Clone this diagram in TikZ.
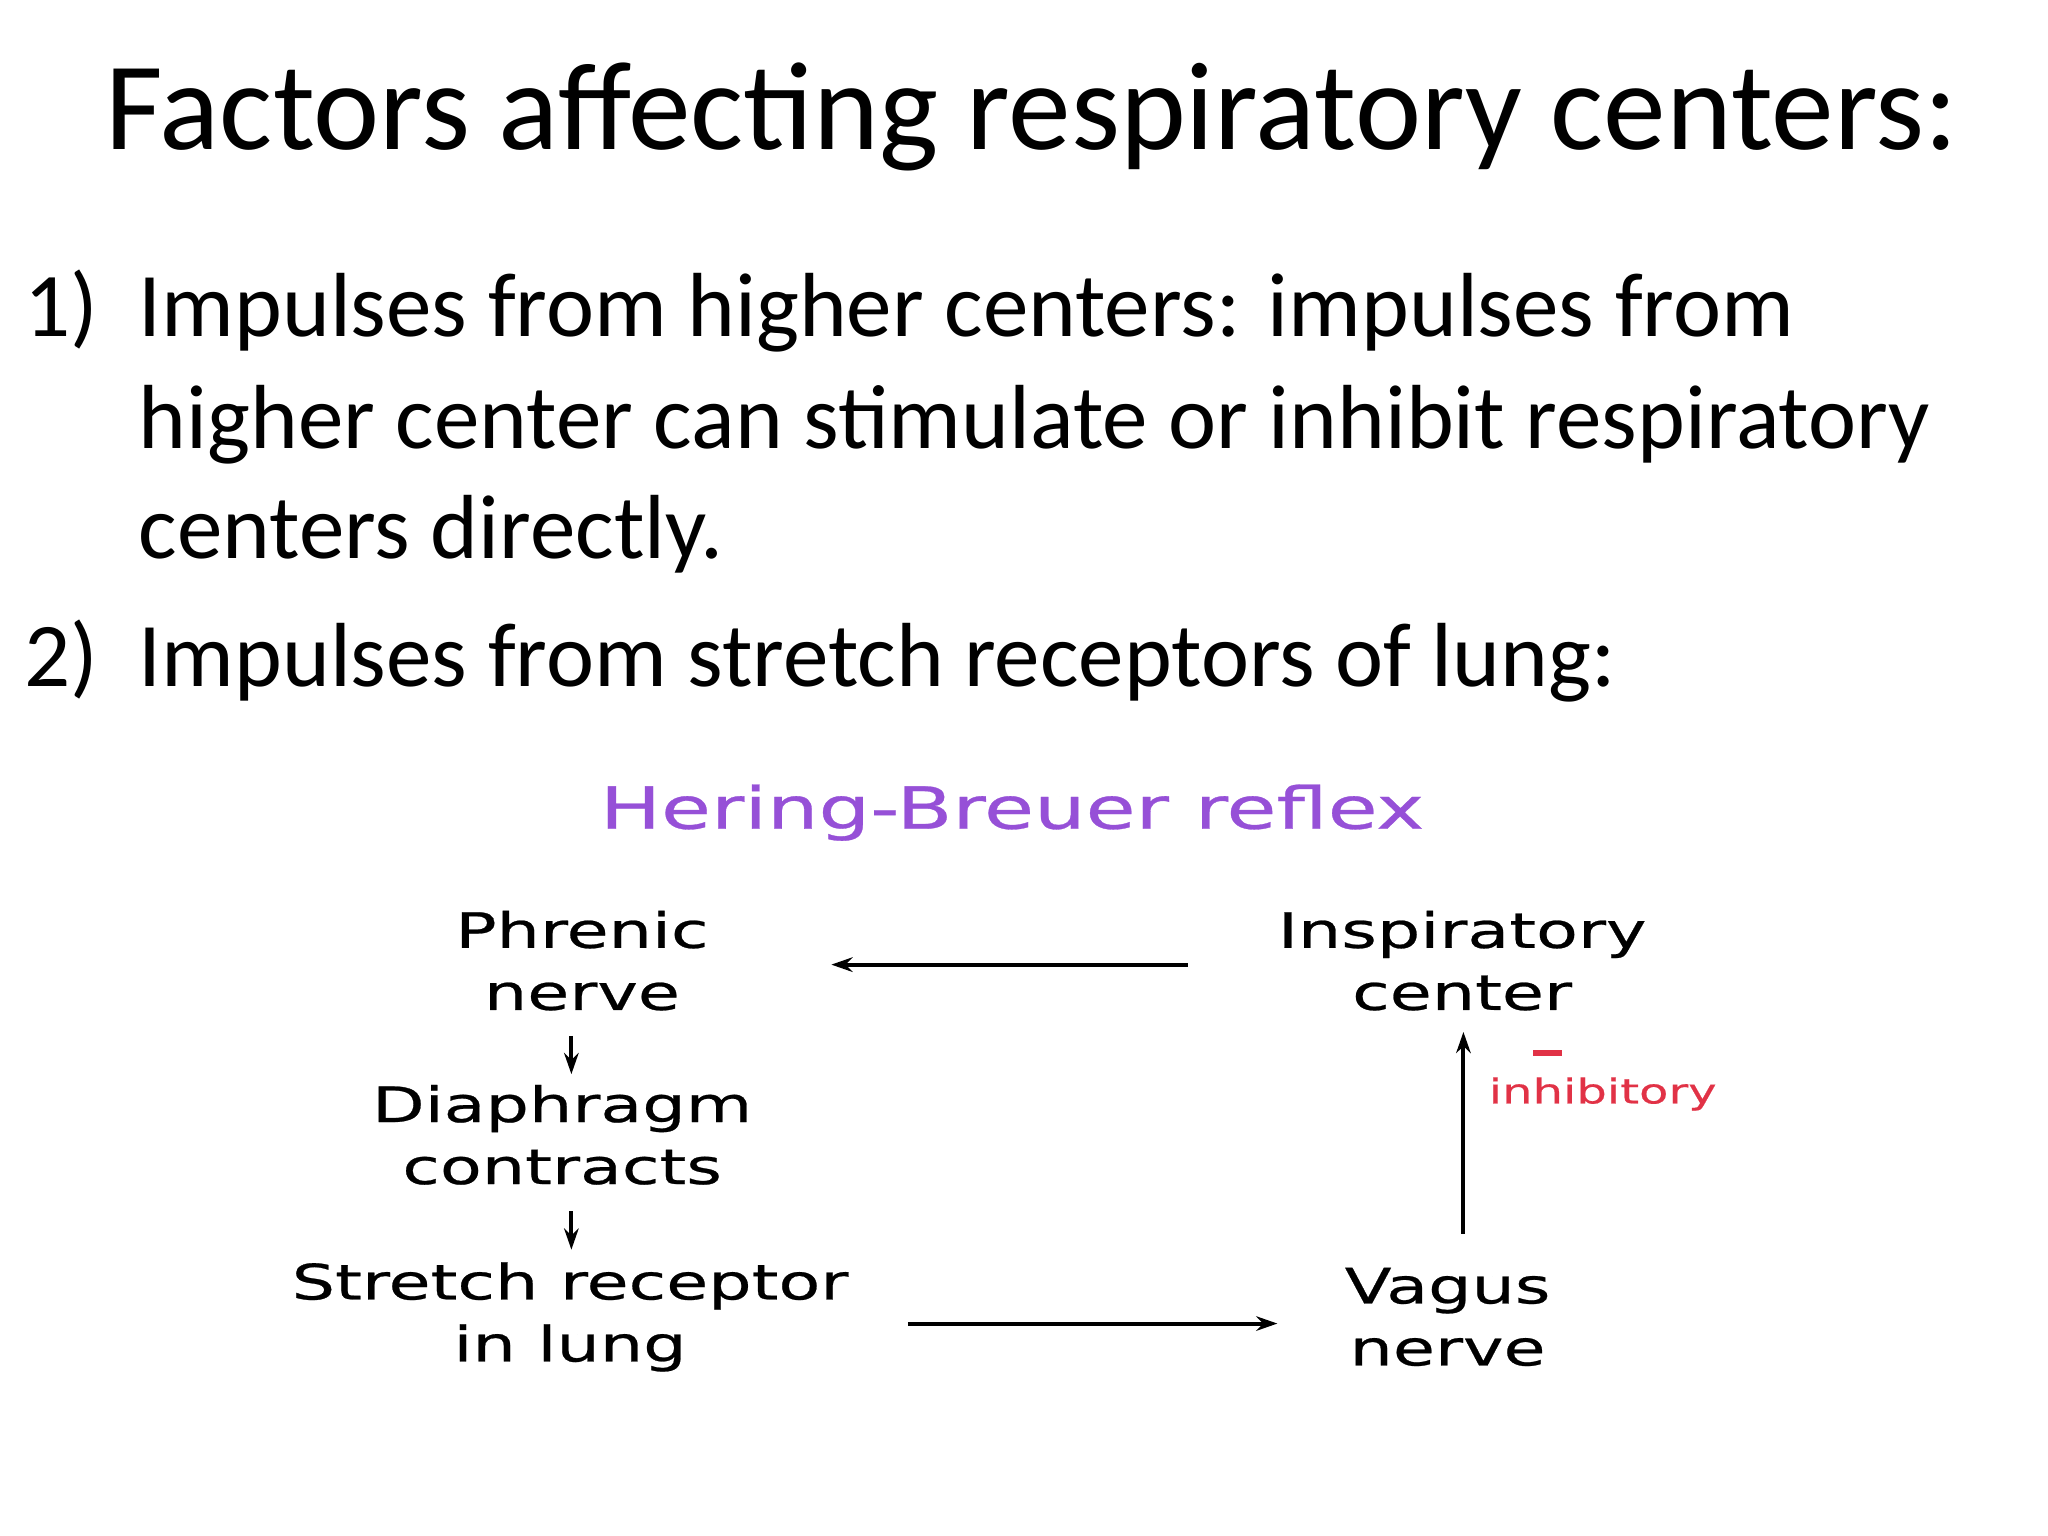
\documentclass[tikz,border=0pt]{standalone}
\usepackage{fontspec}
\usetikzlibrary{arrows.meta}
\setmainfont{Carlito}
\newfontfamily\dfont[FakeStretch=1.4,FakeBold=0.5]{DejaVu Sans}
\definecolor{hb}{RGB}{150,80,215}
\definecolor{inh}{RGB}{225,50,70}
\begin{document}
\begin{tikzpicture}[x=1pt,y=-1pt,
 body/.style={anchor=base west,inner sep=0,font=\fontsize{69}{75}\selectfont},
 dn/.style={font=\dfont\fontsize{37}{47}\selectfont,align=center,inner sep=2pt},
 arr/.style={-{Stealth[length=16pt,width=11pt]},line width=3pt}]
\useasboundingbox (0,0) rectangle (1552,1164);
\node[anchor=base,inner sep=0,font=\fontsize{95}{100}\selectfont] (title) at (782,113) {Factors affecting respiratory centers:};
\node[body] (l1) at (18,255) {1)};
\node[body] (t1) at (105,255) {Impulses from higher centers: impulses from};
\node[body] (t2) at (105,340) {higher center can stimulate or inhibit respiratory};
\node[body] (t3) at (105,423) {centers directly.};
\node[body] (l2) at (18,520) {2)};
\node[body] (t4) at (105,520) {Impulses from stretch receptors of lung:};
\node[font=\dfont\fontsize{44}{50}\selectfont,text=hb,anchor=base] (hb) at (767,628) {Hering-Breuer reflex};
\node[dn] (phr) at (441,728) {Phrenic\\nerve};
\node[dn] (dia) at (426,860) {Diaphragm\\contracts};
\node[dn] (str) at (432,998) {Stretch receptor\\in lung};
\node[dn] (ins) at (1108,728) {Inspiratory\\center};
\node[dn] (vag) at (1097,998) {Vagus\\nerve};
\coordinate (a1) at (433,785); \coordinate (a2) at (433,814);
\coordinate (b1) at (433,918); \coordinate (b2) at (433,947);
\coordinate (c1) at (900,731); \coordinate (c2) at (630,731);
\coordinate (d1) at (688,1003); \coordinate (d2) at (968,1003);
\coordinate (e1) at (1109,935); \coordinate (e2) at (1109,782);
\draw[arr] (a1) -- (a2);
\draw[arr] (b1) -- (b2);
\draw[arr] (c1) -- (c2);
\draw[arr] (d1) -- (d2);
\draw[arr] (e1) -- (e2);
\node[font=\dfont\fontsize{26}{30}\selectfont,text=inh,anchor=west,inner sep=0] (ib) at (1128,829) {inhibitory};
\draw[inh,line width=4pt] (1162,798) -- (1184,798);
\end{tikzpicture}
\end{document}
